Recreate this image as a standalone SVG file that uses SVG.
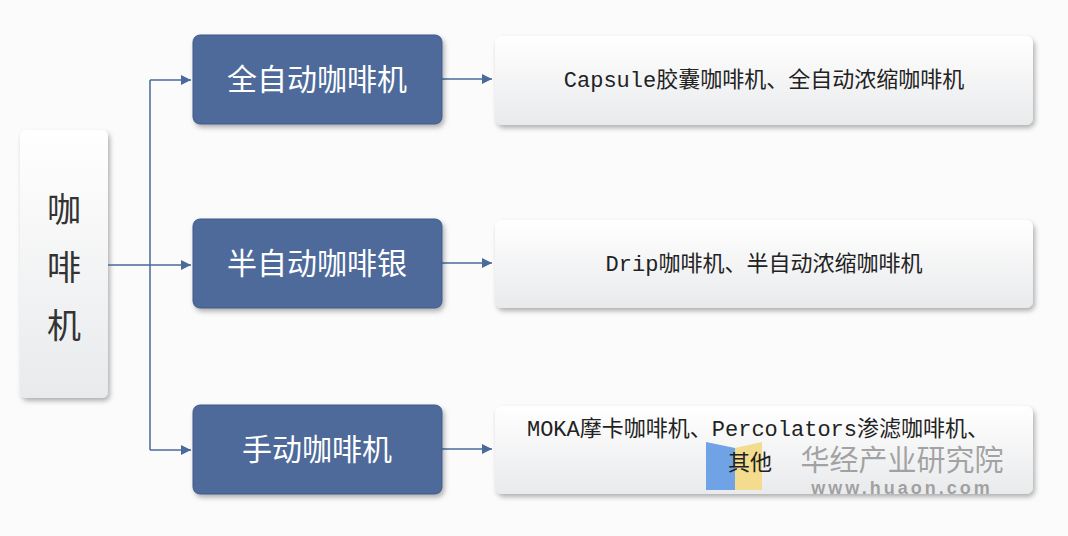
<svg xmlns="http://www.w3.org/2000/svg" width="1068" height="536" viewBox="0 0 1068 536">
<defs>
<linearGradient id="lg" x1="0" y1="0" x2="0" y2="1"><stop offset="0" stop-color="#ffffff"/><stop offset="1" stop-color="#e9eaec"/></linearGradient>
<filter id="sh" x="-10%" y="-10%" width="125%" height="130%"><feDropShadow dx="2" dy="3" stdDeviation="2.5" flood-color="#000" flood-opacity="0.3"/></filter>
<marker id="ar" viewBox="0 0 10 10" refX="10" refY="5" markerWidth="10" markerHeight="10" markerUnits="userSpaceOnUse" orient="auto"><path d="M0,0 L10,5 L0,10 z" fill="#4a6a9c"/></marker>
<style>
.w{fill:url(#lg);filter:url(#sh)}
.b{fill:#4e6a9b;stroke:#3f5a88;filter:url(#sh)}
.bt{font-family:"Noto Sans CJK SC",sans-serif;font-size:30px;fill:#fff;text-anchor:middle}
.rt{font-family:"Liberation Mono","Noto Sans CJK SC",monospace;font-size:22px;fill:#222;text-anchor:middle}
.c{fill:none;stroke:#4a6a9c;stroke-width:1.5}
</style>
</defs>
<rect width="1068" height="536" fill="#fbfbfb"/>
<g id="root"><rect class="w" x="20" y="130" width="88" height="268" rx="6"/>
<text font-family="Noto Sans CJK SC,sans-serif" font-size="34" fill="#333" text-anchor="middle"><tspan x="64" y="222">咖</tspan><tspan x="64" y="280">啡</tspan><tspan x="64" y="338">机</tspan></text></g>
<g id="connectors">
<path class="c" d="M108,265 H150 M150,80 V450"/>
<path class="c" d="M150,80 H191" marker-end="url(#ar)"/>
<path class="c" d="M150,265 H191" marker-end="url(#ar)"/>
<path class="c" d="M150,450 H191" marker-end="url(#ar)"/>
<path class="c" d="M442,79 H492" marker-end="url(#ar)"/>
<path class="c" d="M442,263 H492" marker-end="url(#ar)"/>
<path class="c" d="M442,449 H492" marker-end="url(#ar)"/>
</g>
<g id="n1"><rect class="b" x="193" y="35" width="249" height="89" rx="7"/><text class="bt" x="317" y="90">全自动咖啡机</text></g>
<g id="n2"><rect class="b" x="193" y="219" width="249" height="89" rx="7"/><text class="bt" x="317" y="274">半自动咖啡银</text></g>
<g id="n3"><rect class="b" x="193" y="405" width="249" height="89" rx="7"/><text class="bt" x="317" y="460">手动咖啡机</text></g>
<g id="r1"><rect class="w" x="495" y="36" width="538" height="89" rx="7"/><text class="rt" x="764" y="87">Capsule胶囊咖啡机、全自动浓缩咖啡机</text></g>
<g id="r2"><rect class="w" x="495" y="220" width="538" height="88" rx="7"/><text class="rt" x="764" y="271">Drip咖啡机、半自动浓缩咖啡机</text></g>
<g id="r3"><rect class="w" x="495" y="406" width="538" height="88" rx="7"/>
<polygon points="706,442 735,448 735,490 706,490" fill="#6fa3e6"/>
<polygon points="735,448 762,442 762,490 735,490" fill="#f3dc8e"/>
<text class="rt" x="758" y="436">MOKA摩卡咖啡机、Percolators渗滤咖啡机、</text>
<text class="rt" x="750" y="470">其他</text>
<text x="902" y="471" font-family="Noto Sans CJK SC,sans-serif" font-size="29" fill="#888" fill-opacity="0.75" text-anchor="middle">华经产业研究院</text>
<text x="902" y="494" font-family="Liberation Sans,sans-serif" font-size="18" font-weight="bold" letter-spacing="3" fill="#888" fill-opacity="0.75" text-anchor="middle">www.huaon.com</text>
</g>
</svg>
